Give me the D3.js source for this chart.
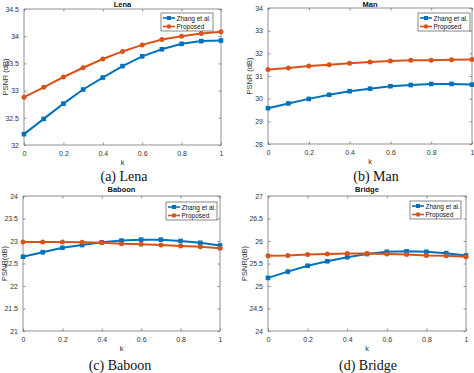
<!DOCTYPE html>
<html>
<head>
<meta charset="utf-8">
<script src="https://cdn.jsdelivr.net/npm/d3@7"></script>
<style>
  body { margin: 0; background: #fff; }
  svg { display: block; }
</style>
</head>
<body>
<div id="chart"></div>
<script>
const kValues = [0, 0.1, 0.2, 0.3, 0.4, 0.5, 0.6, 0.7, 0.8, 0.9, 1];
const xTicks = [0, 0.2, 0.4, 0.6, 0.8, 1];
const seriesNames = ["Zhang et al.", "Proposed"];

const lenaZhang = [32.2, 32.48, 32.76, 33.02, 33.24, 33.45, 33.63, 33.76, 33.86, 33.91, 33.92];
const lenaProposed = [32.88, 33.06, 33.25, 33.42, 33.58, 33.72, 33.84, 33.94, 34.0, 34.05, 34.08];
const lenaTicks = [32, 32.5, 33, 33.5, 34, 34.5];

const manZhang = [29.58, 29.79, 29.99, 30.17, 30.33, 30.44, 30.55, 30.6, 30.65, 30.65, 30.62];
const manProposed = [31.29, 31.35, 31.44, 31.5, 31.56, 31.62, 31.66, 31.69, 31.7, 31.72, 31.73];
const manTicks = [28, 29, 30, 31, 32, 33, 34];

const baboonZhang = [22.65, 22.75, 22.85, 22.91, 22.97, 23.01, 23.03, 23.03, 23.0, 22.96, 22.9];
const baboonProposed = [22.98, 22.98, 22.98, 22.97, 22.96, 22.94, 22.93, 22.91, 22.89, 22.87, 22.84];
const baboonTicks = [21, 21.5, 22, 22.5, 23, 23.5, 24];

const bridgeZhang = [25.18, 25.32, 25.45, 25.55, 25.64, 25.71, 25.76, 25.77, 25.76, 25.73, 25.68];
const bridgeProposed = [25.67, 25.68, 25.7, 25.71, 25.72, 25.72, 25.71, 25.7, 25.68, 25.67, 25.65];
const bridgeTicks = [24, 24.5, 25, 25.5, 26, 26.5, 27];

const color = d3.scaleOrdinal().domain(seriesNames).range(["#0072BD", "#D95319"]);

const svg = d3.select("#chart").append("svg").attr("width", 474).attr("height", 373);

const panels = [
  { title: "Lena", caption: "(a) Lena", ylabel: "PSNR (dB)", ticks: lenaTicks, series: [lenaZhang, lenaProposed],
    box: { x0: 24, x1: 221, y0: 9, y1: 145 }, legend: { x: 161, y: 13, w: 52 }, ylabX: 5, capX: 124, capY: 181, titleY: 7 },
  { title: "Man", caption: "(b) Man", ylabel: "PSNR (dB)", ticks: manTicks, series: [manZhang, manProposed],
    box: { x0: 268, x1: 472, y0: 8, y1: 144 }, legend: { x: 418, y: 13, w: 52 }, ylabX: 249, capX: 376, capY: 181, titleY: 6.5 },
  { title: "Baboon", caption: "(c) Baboon", ylabel: "PSNR(dB)", ticks: baboonTicks, series: [baboonZhang, baboonProposed],
    box: { x0: 23, x1: 220, y0: 196, y1: 331 }, legend: { x: 166, y: 202, w: 51 }, ylabX: 4, capX: 120, capY: 370, titleY: 192 },
  { title: "Bridge", caption: "(d) Bridge", ylabel: "PSNR(dB)", ticks: bridgeTicks, series: [bridgeZhang, bridgeProposed],
    box: { x0: 268, x1: 466, y0: 196, y1: 331 }, legend: { x: 410, y: 201, w: 51 }, ylabX: 244, capX: 368, capY: 370, titleY: 192 },
];

panels.forEach(drawPanel);

function drawPanel(p) {
  const { x0, x1, y0, y1 } = p.box;
  const x = d3.scaleLinear().domain([0, 1]).range([x0, x1]);
  const y = d3.scaleLinear().domain(d3.extent(p.ticks)).range([y1, y0]);
  const g = svg.append("g");
  const tickFont = "Liberation Sans, Arial, sans-serif";

  // white plot background + box
  g.append("rect")
    .attr("x", x0).attr("y", y0).attr("width", x1 - x0).attr("height", y1 - y0)
    .attr("fill", "#fff").attr("stroke", "#777").attr("stroke-width", 0.8);

  // axes (MATLAB style: ticks inward, on all sides)
  const styleAxis = (sel) => {
    sel.select(".domain").remove();
    sel.selectAll(".tick line").attr("stroke", "#777").attr("stroke-width", 0.8);
    sel.selectAll(".tick text").attr("fill", "#333").style("font-family", tickFont).style("font-size", "7px");
  };
  g.append("g").attr("transform", `translate(0,${y1})`)
    .call(d3.axisBottom(x).tickValues(xTicks).tickFormat(d3.format("")).tickSizeInner(-2.5).tickPadding(6))
    .call(styleAxis);
  g.append("g").attr("transform", `translate(0,${y0})`)
    .call(d3.axisTop(x).tickValues(xTicks).tickFormat("").tickSizeInner(-2.5))
    .call(styleAxis);
  g.append("g").attr("transform", `translate(${x0},0)`)
    .call(d3.axisLeft(y).tickValues(p.ticks).tickFormat(d3.format("")).tickSizeInner(-2.5).tickPadding(5))
    .call(styleAxis);
  g.append("g").attr("transform", `translate(${x1},0)`)
    .call(d3.axisRight(y).tickValues(p.ticks).tickFormat("").tickSizeInner(-2.5))
    .call(styleAxis);

  // series
  const line = d3.line().x((d, i) => x(kValues[i])).y((d) => y(d));
  p.series.forEach((vals, si) => {
    const c = color(seriesNames[si]);
    g.append("path").datum(vals).attr("d", line)
      .attr("fill", "none").attr("stroke", c).attr("stroke-width", 2);
    const m = g.append("g").selectAll("g").data(vals).join("g")
      .attr("transform", (d, i) => `translate(${x(kValues[i])},${y(d)})`);
    if (si === 0) {
      m.append("rect").attr("x", -2.3).attr("y", -2.3).attr("width", 4.6).attr("height", 4.6).attr("fill", c);
    } else {
      m.append("circle").attr("r", 2.5).attr("fill", c);
    }
  });

  // legend
  const L = p.legend;
  const lg = g.append("g").attr("transform", `translate(${L.x},${L.y})`);
  lg.append("rect").attr("width", L.w).attr("height", 18).attr("fill", "#fff")
    .attr("stroke", "#555").attr("stroke-width", 0.7);
  seriesNames.forEach((name, i) => {
    const row = lg.append("g").attr("transform", `translate(0,${5 + i * 8.5})`);
    const c = color(name);
    row.append("line").attr("x1", 2).attr("x2", 14).attr("stroke", c).attr("stroke-width", 1.6);
    if (i === 0) row.append("rect").attr("x", 6).attr("y", -2).attr("width", 4).attr("height", 4).attr("fill", c);
    else row.append("circle").attr("cx", 8).attr("r", 2.2).attr("fill", c);
    row.append("text").attr("x", 15.5).attr("y", 2.5).text(name)
      .style("font-family", tickFont).style("font-size", "6.5px").attr("fill", "#111");
  });

  // title
  g.append("text").attr("x", (x0 + x1) / 2).attr("y", p.titleY).attr("text-anchor", "middle")
    .style("font-family", tickFont).style("font-size", "7.5px").style("font-weight", "bold").attr("fill", "#111")
    .text(p.title);

  // x label
  g.append("text").attr("x", (x0 + x1) / 2).attr("y", y1 + 20).attr("text-anchor", "middle")
    .style("font-family", tickFont).style("font-size", "7.5px").attr("fill", "#333").text("k");

  // y label
  g.append("text").attr("transform", `translate(${p.ylabX},${(y0 + y1) / 2}) rotate(-90)`)
    .attr("text-anchor", "middle").attr("dy", "0.35em")
    .style("font-family", tickFont).style("font-size", "7.5px").attr("fill", "#333").text(p.ylabel);

  // caption
  g.append("text").attr("x", p.capX).attr("y", p.capY).attr("text-anchor", "middle")
    .style("font-family", "Liberation Serif, Times New Roman, serif").style("font-size", "14px").attr("fill", "#111")
    .text(p.caption);
}
</script>
</body>
</html>
